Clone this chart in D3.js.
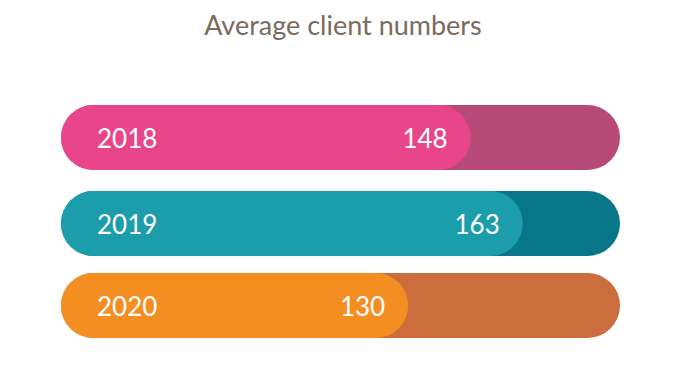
<!DOCTYPE html>
<html>
<head>
<meta charset="utf-8">
<script src="https://cdn.jsdelivr.net/npm/d3@7"></script>
<style>
  body { margin: 0; background: #fff; }
  text { font-family: "Lato", "Open Sans", sans-serif; }
</style>
</head>
<body>
<svg></svg>
<script>
var years = ["2018", "2019", "2020"];
var clients = [148, 163, 130];
var fillColors = ["#e8458a", "#1b9dab", "#f58e21"];
var trackColors = ["#b84a78", "#077688", "#cc6d3d"];
var title = "Average client numbers";

var svg = d3.select("svg").attr("width", 676).attr("height", 368);

svg.append("text")
  .attr("x", 343)
  .attr("y", 35)
  .attr("text-anchor", "middle")
  .attr("font-size", "27px")
  .attr("fill", "#7b6b5d")
  .text(title);

// bar rows (gap is a bit tighter under the middle one in the original)
var y = d3.scaleOrdinal().domain(years).range([105, 191, 273]);
var barH = 65;
var x = d3.scaleLinear().domain([30, 191]).range([61, 620]);

var g = svg.append("g");

var rows = g.selectAll(".row")
  .data(years)
  .enter().append("g")
  .attr("class", "row")
  .attr("transform", function(d) { return "translate(0," + y(d) + ")"; });

rows.append("rect")
  .attr("x", x.range()[0])
  .attr("width", x.range()[1] - x.range()[0])
  .attr("height", barH)
  .attr("rx", barH / 2)
  .attr("fill", function(d, i) { return trackColors[i]; });

rows.append("rect")
  .attr("x", x.range()[0])
  .attr("width", function(d, i) { return x(clients[i]) - x.range()[0]; })
  .attr("height", barH)
  .attr("rx", barH / 2)
  .attr("fill", function(d, i) { return fillColors[i]; });

rows.append("text")
  .attr("x", 97)
  .attr("y", 43)
  .attr("font-size", "26px")
  .attr("fill", "#fff")
  .text(function(d) { return d; });

rows.append("text")
  .attr("x", function(d, i) { return x(clients[i]) - 23; })
  .attr("y", 43)
  .attr("text-anchor", "end")
  .attr("font-size", "26px")
  .attr("fill", "#fff")
  .text(function(d, i) { return clients[i]; });
</script>
</body>
</html>
